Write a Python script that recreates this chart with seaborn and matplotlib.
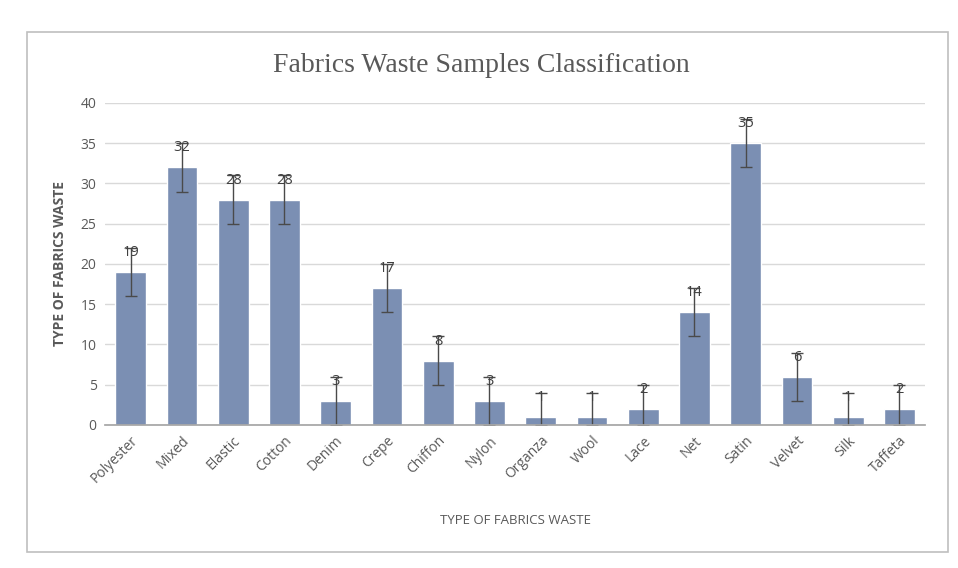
import numpy as np
import pandas as pd
import seaborn as sns
import matplotlib.pyplot as plt
from matplotlib.patches import Rectangle

fabrics = ["Polyester", "Mixed", "Elastic", "Cotton", "Denim", "Crepe", "Chiffon",
           "Nylon", "Organza", "Wool", "Lace", "Net", "Satin", "Velvet", "Silk", "Taffeta"]
counts = [19, 32, 28, 28, 3, 17, 8, 3, 1, 1, 2, 14, 35, 6, 1, 2]
err = [3] * len(fabrics)

df = pd.DataFrame({"Fabric": fabrics, "Count": counts})

sns.set_theme(style="white")
plt.rcParams["font.family"] = ["Open Sans", "DejaVu Sans"]

fig = plt.figure(figsize=(9.58, 5.68), dpi=100)
ax = fig.add_axes([0.1096, 0.2518, 0.856, 0.5669])

bar_color = "#7B8FB3"
sns.barplot(data=df, x="Fabric", y="Count", color=bar_color, width=0.6,
            saturation=1, ax=ax, errorbar=None)

# error bars (+/- 3) clipped at the axis floor
lower = np.minimum(err, counts)
ax.errorbar(np.arange(len(fabrics)), counts, yerr=[lower, err], fmt="none",
            ecolor="#4a4a4a", elinewidth=1.0, capsize=4, capthick=1.0)

for i, v in enumerate(counts):
    ax.annotate(str(v), (i, v), xytext=(0, 14), textcoords="offset points",
                ha="center", va="center", fontsize=10.5, color="#404040")

ax.set_ylim(0, 40)
ax.set_xlim(-0.5, len(fabrics) - 0.5)
ax.set_yticks(range(0, 41, 5))
ax.yaxis.grid(True, color="#d9d9d9", linewidth=1)
ax.set_axisbelow(True)
for s in ["top", "right", "left"]:
    ax.spines[s].set_visible(False)
ax.spines["bottom"].set_color("#a6a6a6")
ax.tick_params(axis="both", length=0, labelsize=10, colors="#595959", pad=6)
plt.setp(ax.get_xticklabels(), rotation=45, ha="right", rotation_mode="anchor")

ax.set_xlabel("TYPE OF FABRICS WASTE", fontsize=9.5, color="#595959", labelpad=20)
ax.set_ylabel("TYPE OF FABRICS WASTE", fontsize=10, color="#595959",
              fontweight="bold", labelpad=10)

fig.text(0.503, 0.884, "Fabrics Waste Samples Classification", ha="center", va="center",
         fontsize=20, color="#595959", family=["Liberation Serif", "DejaVu Serif"])

fig.patches.append(Rectangle((27 / 958, 1 - 552 / 568), 921 / 958, 520 / 568,
                             transform=fig.transFigure, fill=False,
                             edgecolor="#bfbfbf", linewidth=1.2))

fig.savefig("out.png", dpi=100)
